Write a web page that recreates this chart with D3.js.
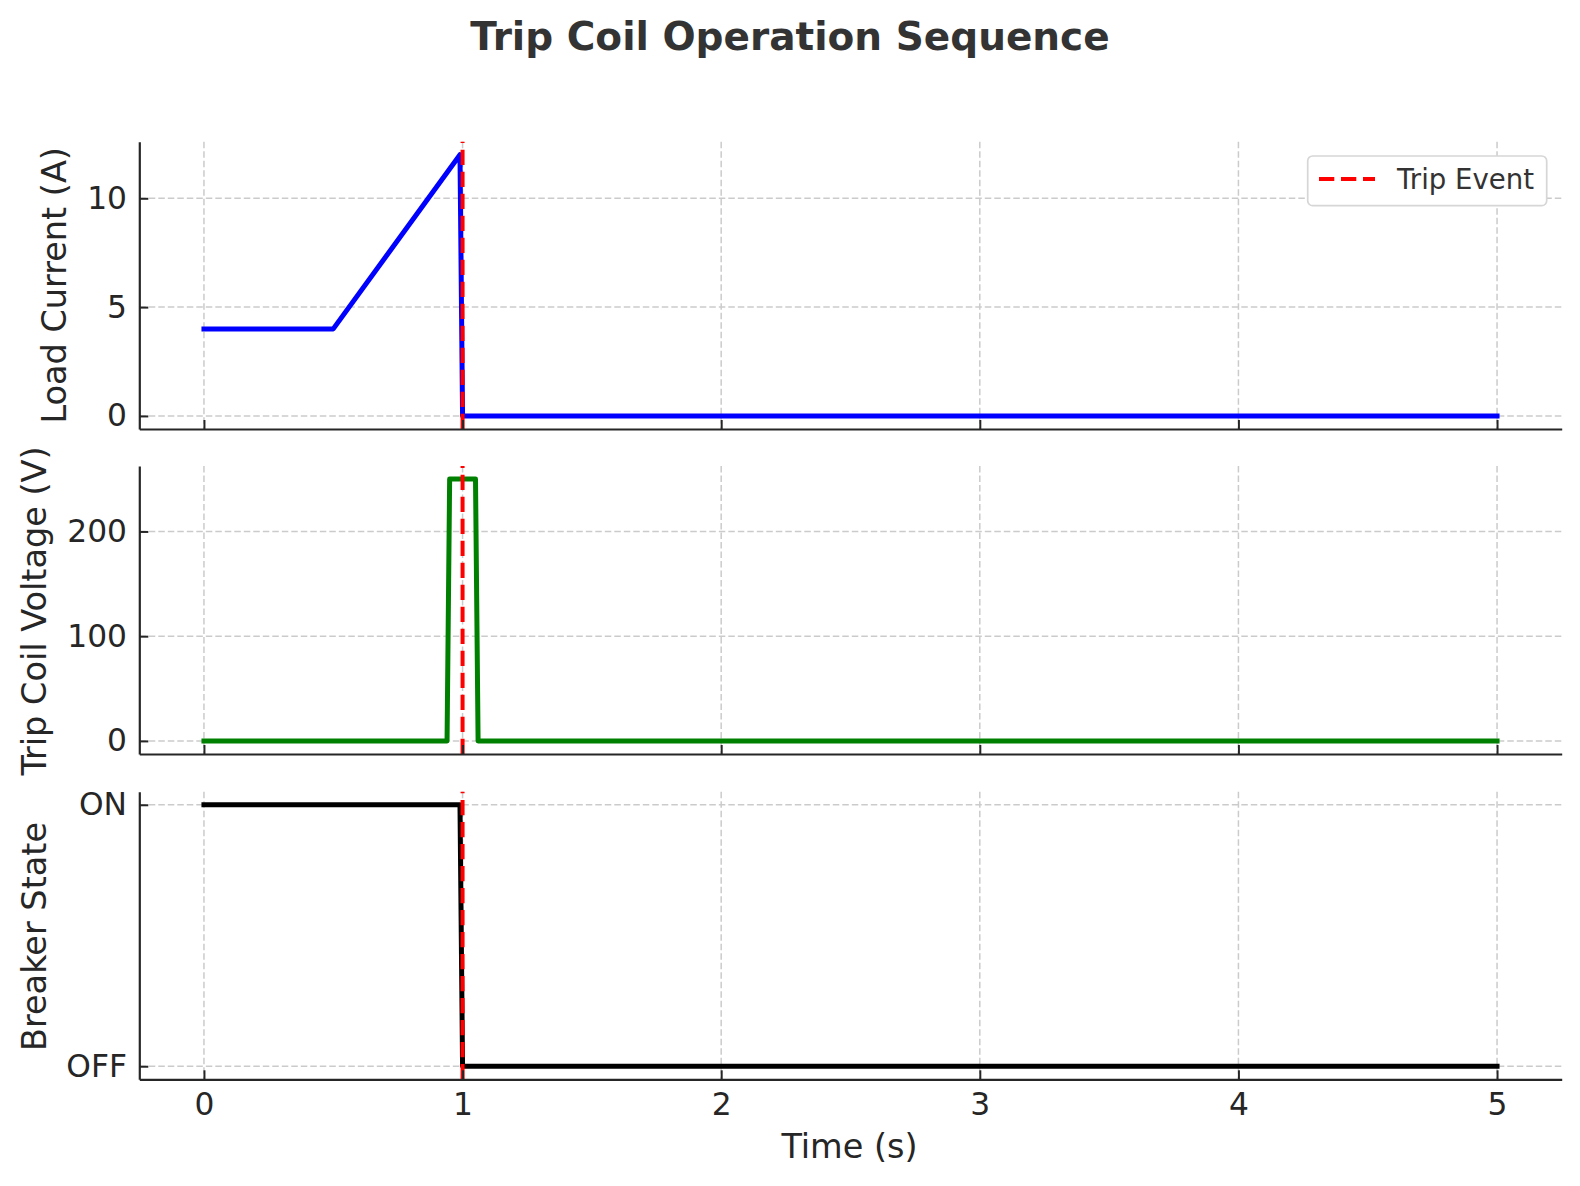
<!DOCTYPE html>
<html>
<head>
<meta charset="utf-8">
<script src="https://cdn.jsdelivr.net/npm/d3@7"></script>
<style>
  body { margin: 0; background: #fff; }
  svg { display: block; font-family: "DejaVu Sans", sans-serif; }
  .grid line { stroke: #cbcbcb; stroke-width: 1.5; stroke-dasharray: 6.5 3; }
  .axis .domain { stroke: #262626; stroke-width: 2.2; }
  .axis .tick line { stroke: #262626; stroke-width: 2; }
  .axis .tick text { fill: #262626; font-size: 31.3px; font-family: "DejaVu Sans", sans-serif; }
  .ylabel, .xlabel { fill: #262626; font-size: 33.5px; }
</style>
</head>
<body>
<svg id="chart" width="1580" height="1186"></svg>
<script>
// time samples and values
const currentTimes = [0, 0.5, 0.99, 1.0, 5]
const currentValues = [4, 4, 12, 0, 0]
const voltageTimes = [0, 0.94, 0.95, 1.05, 1.06, 5]
const voltageValues = [0, 0, 250, 250, 0, 0]
const breakerTimes = [0, 0.99, 1.0, 5]
const breakerValues = [1, 1, 0, 0]
const tripTime = 1.0

const timeTicks = [0, 1, 2, 3, 4, 5]
const currentTicks = [0, 5, 10]
const voltageTicks = [0, 100, 200]
const breakerTicks = [0, 1]
const breakerTickLabels = ['OFF', 'ON']

const svg = d3.select('#chart')
const left = 139.3, right = 1561.7

// matplotlib style 5% margins
function padded(ext) {
  const m = (ext[1] - ext[0]) * 0.05
  return [ext[0] - m, ext[1] + m]
}

const x = d3.scaleLinear()
  .domain(padded(d3.extent(currentTimes.concat(voltageTimes, breakerTimes))))
  .range([left, right])

const panels = [
  { times: currentTimes, values: currentValues, color: 'blue', ticks: currentTicks,
    fmt: d => d, label: 'Load Current (A)', top: 141.7, bottom: 429, labelX: 65.5, labelDy: 0, legend: true },
  { times: voltageTimes, values: voltageValues, color: 'green', ticks: voltageTicks,
    fmt: d => d, label: 'Trip Coil Voltage (V)', top: 466, bottom: 754, labelX: 46, labelDy: 1 },
  { times: breakerTimes, values: breakerValues, color: 'black', ticks: breakerTicks,
    fmt: (d, i) => breakerTickLabels[i], label: 'Breaker State', top: 791.7, bottom: 1079.3, labelX: 46, labelDy: 1, xlabels: true }
]

panels.forEach(p => {
  const y = d3.scaleLinear()
    .domain(padded(d3.extent(p.values)))
    .range([p.bottom, p.top])

  const g = svg.append('g')

  // grid
  const grid = g.append('g').attr('class', 'grid')
  grid.selectAll('.gx').data(timeTicks).join('line')
    .attr('x1', d => x(d)).attr('x2', d => x(d))
    .attr('y1', p.top).attr('y2', p.bottom)
  grid.selectAll('.gy').data(p.ticks).join('line')
    .attr('class', 'gy')
    .attr('x1', left).attr('x2', right)
    .attr('y1', d => y(d)).attr('y2', d => y(d))

  const pts = p.times.map((t, i) => [t, p.values[i]])
  const line = d3.line().x(d => x(d[0])).y(d => y(d[1]))

  g.append('path')
    .datum(pts)
    .attr('d', line)
    .attr('fill', 'none')
    .attr('stroke', p.color)
    .attr('stroke-width', 5)
    .attr('stroke-linejoin', 'round')
    .attr('stroke-linecap', 'square')

  // trip event line, drawn bottom to top like axvline
  g.append('line')
    .attr('x1', x(tripTime)).attr('x2', x(tripTime))
    .attr('y1', p.bottom).attr('y2', p.top)
    .attr('stroke', 'red')
    .attr('stroke-width', 4)
    .attr('stroke-dasharray', '15.3 6.7')

  // axes
  const yAxis = d3.axisLeft(y).tickValues(p.ticks).tickFormat(p.fmt)
    .tickSizeInner(-9).tickSizeOuter(0).tickPadding(12.3)
  g.append('g').attr('class', 'axis')
    .attr('transform', 'translate(' + left + ',0)')
    .call(yAxis)

  const xAxis = d3.axisBottom(x).tickValues(timeTicks)
    .tickFormat(p.xlabels ? d => d : '')
    .tickSizeInner(-9).tickSizeOuter(0).tickPadding(13.8)
  g.append('g').attr('class', 'axis')
    .attr('transform', 'translate(0,' + p.bottom + ')')
    .call(xAxis)

  g.append('text')
    .attr('class', 'ylabel')
    .attr('transform', 'translate(' + p.labelX + ',' + ((p.top + p.bottom) / 2 + p.labelDy) + ') rotate(-90)')
    .attr('text-anchor', 'middle')
    .text(p.label)

  if (p.legend) {
    const lg = svg.append('g')
    lg.append('rect')
      .attr('x', 1307.7).attr('y', 156)
      .attr('width', 239).attr('height', 49.7)
      .attr('rx', 5)
      .attr('fill', 'white')
      .attr('stroke', '#d6d6d6')
      .attr('stroke-width', 1.7)
    lg.append('line')
      .attr('x1', 1319).attr('x2', 1375)
      .attr('y1', 179).attr('y2', 179)
      .attr('stroke', 'red')
      .attr('stroke-width', 4)
      .attr('stroke-dasharray', '15.3 6.7')
    lg.append('text')
      .attr('x', 1397).attr('y', 189)
      .attr('font-size', 27.6)
      .attr('fill', '#333')
      .text('Trip Event')
  }
})

svg.append('text')
  .attr('class', 'xlabel')
  .attr('x', (left + right) / 2 - 1).attr('y', 1158)
  .attr('text-anchor', 'middle')
  .text('Time (s)')

svg.append('text')
  .attr('x', 790).attr('y', 50)
  .attr('text-anchor', 'middle')
  .attr('font-size', 39)
  .attr('font-weight', 'bold')
  .attr('fill', '#333')
  .text('Trip Coil Operation Sequence')
</script>
</body>
</html>
